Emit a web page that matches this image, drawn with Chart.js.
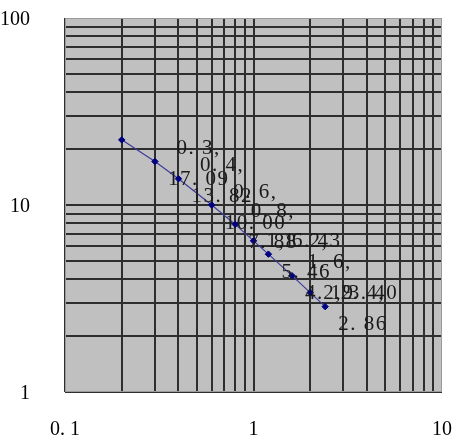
<!DOCTYPE html>
<html>
<head>
<meta charset="utf-8">
<script src="https://cdn.jsdelivr.net/npm/chart.js@4/dist/chart.umd.min.js"></script>
<style>
  html, body { margin: 0; padding: 0; background: #ffffff; }
  #wrap { width: 474px; height: 443px; }
</style>
</head>
<body>
<div id="wrap"><canvas id="c" width="474" height="443"></canvas></div>
<script>
// ---- data ----
const xValues = [0.2, 0.3, 0.4, 0.6, 0.8, 1, 1.2, 1.6, 2, 2.4];
const yValues = [22.3, 17.09, 13.82, 10.00, 7.88, 6.43, 5.46, 4.19, 3.40, 2.86];
const showLabel = [false, true, true, true, true, true, true, true, true, true];

// ---- axis decades and their tick labels ----
const xDecades = [0.1, 1, 10];
const xDecadeLabels = ['0. 1', '1', '10'];
const yDecades = [1, 10, 100];
const yDecadeLabels = ['1', '10', '100'];

const points = xValues.map((x, i) => ({ x: x, y: yValues[i] }));

function fmtX(v) { return String(v).replace('.', '. '); }
function fmtY(v) { return v.toFixed(2).replace('.', '. '); }

function decadeLabel(value, decades, labels) {
  for (let i = 0; i < decades.length; i++) {
    if (Math.abs(Math.log10(value) - Math.log10(decades[i])) < 1e-9) return labels[i];
  }
  return '';
}

function logGridTicks(scale) {
  const min = scale.min, max = scale.max;
  const e0 = Math.round(Math.log10(min)), e1 = Math.round(Math.log10(max));
  const ticks = [];
  for (let e = e0; e < e1; e++) {
    for (let m = 1; m <= 9; m++) ticks.push({ value: m * Math.pow(10, e) });
  }
  ticks.push({ value: max });
  scale.ticks = ticks;
}

const TICK_FONT = { family: "'Liberation Serif', 'DejaVu Serif', serif", size: 20 };
const GRID_COLOR = '#2e2e2e';

const plotBg = {
  id: 'plotBg',
  beforeDraw(chart) {
    const { ctx, chartArea: a } = chart;
    ctx.save();
    ctx.fillStyle = '#c0c0c0';
    ctx.fillRect(a.left, a.top, a.right - a.left, a.bottom - a.top);
    ctx.restore();
  },
  afterDraw(chart) {
    const { ctx, chartArea: a } = chart;
    ctx.save();
    ctx.strokeStyle = '#9a9a9a';
    ctx.lineWidth = 1;
    ctx.strokeRect(a.left + 0.5, a.top + 0.5, a.right - a.left - 1, a.bottom - a.top - 1);
    ctx.restore();
  }
};

const pointLabels = {
  id: 'pointLabels',
  afterDatasetsDraw(chart) {
    const ctx = chart.ctx;
    const meta = chart.getDatasetMeta(0);
    ctx.save();
    ctx.font = "21px 'Liberation Serif', 'DejaVu Serif', serif";
    if ('letterSpacing' in ctx) ctx.letterSpacing = '1.5px';
    ctx.fillStyle = '#1a1a1a';
    ctx.textAlign = 'center';
    ctx.textBaseline = 'middle';
    meta.data.forEach((el, i) => {
      if (!showLabel[i]) return;
      const x = xValues[i], y = yValues[i];
      let lines;
      if (Number.isInteger(x)) {
        lines = [fmtX(x) + ', ' + fmtY(y)];
      } else {
        lines = [fmtX(x) + ',', fmtY(y)];
      }
      const w = Math.max.apply(null, lines.map(t => ctx.measureText(t).width));
      const cx = el.x + 13 + w / 2;
      if (lines.length === 1) {
        ctx.fillText(lines[0], cx, el.y + 1);
      } else {
        ctx.fillText(lines[0], cx, el.y - 13);
        ctx.fillText(lines[1], cx, el.y + 18);
      }
    });
    ctx.restore();
  }
};

new Chart(document.getElementById('c'), {
  type: 'line',
  data: {
    datasets: [{
      data: points,
      borderColor: '#3c3c9c',
      borderWidth: 1.2,
      pointStyle: 'rectRot',
      pointRadius: 3.2,
      pointBackgroundColor: '#000080',
      pointBorderColor: '#000080',
      pointBorderWidth: 1,
      fill: false,
      tension: 0
    }]
  },
  options: {
    responsive: false,
    animation: false,
    devicePixelRatio: 1,
    layout: { padding: { left: 0, top: 18, right: 32, bottom: 0 } },
    plugins: {
      legend: { display: false },
      tooltip: { enabled: false },
      title: { display: false }
    },
    scales: {
      x: {
        type: 'logarithmic',
        position: 'bottom',
        min: 0.1,
        max: 10,
        afterBuildTicks: logGridTicks,
        afterFit(scale) {
          scale.height = 51;
          scale.paddingLeft = 0; scale.paddingRight = 0;
          scale.paddingTop = 0; scale.paddingBottom = 0;
        },
        border: { display: false },
        grid: {
          drawTicks: false,
          lineWidth: 2,
          color: (c) => (c.tick && c.tick.value >= 10 - 1e-9) ? 'rgba(0,0,0,0)' : GRID_COLOR
        },
        ticks: {
          autoSkip: false,
          maxRotation: 0,
          minRotation: 0,
          padding: 26,
          color: '#000000',
          font: TICK_FONT,
          callback: (v) => decadeLabel(v, xDecades, xDecadeLabels)
        }
      },
      y: {
        type: 'logarithmic',
        position: 'left',
        min: 1,
        max: 100,
        afterBuildTicks: logGridTicks,
        afterFit(scale) {
          scale.width = 65;
          scale.paddingLeft = 0; scale.paddingRight = 0;
          scale.paddingTop = 0; scale.paddingBottom = 0;
        },
        border: { display: false },
        grid: {
          drawTicks: false,
          lineWidth: 2,
          color: (c) => (c.tick && c.tick.value >= 100 - 1e-9) ? 'rgba(0,0,0,0)' : GRID_COLOR
        },
        ticks: {
          autoSkip: false,
          padding: 35,
          labelOffset: 2,
          color: '#000000',
          font: TICK_FONT,
          callback: (v) => decadeLabel(v, yDecades, yDecadeLabels)
        }
      }
    }
  },
  plugins: [plotBg, pointLabels]
});
</script>
</body>
</html>
